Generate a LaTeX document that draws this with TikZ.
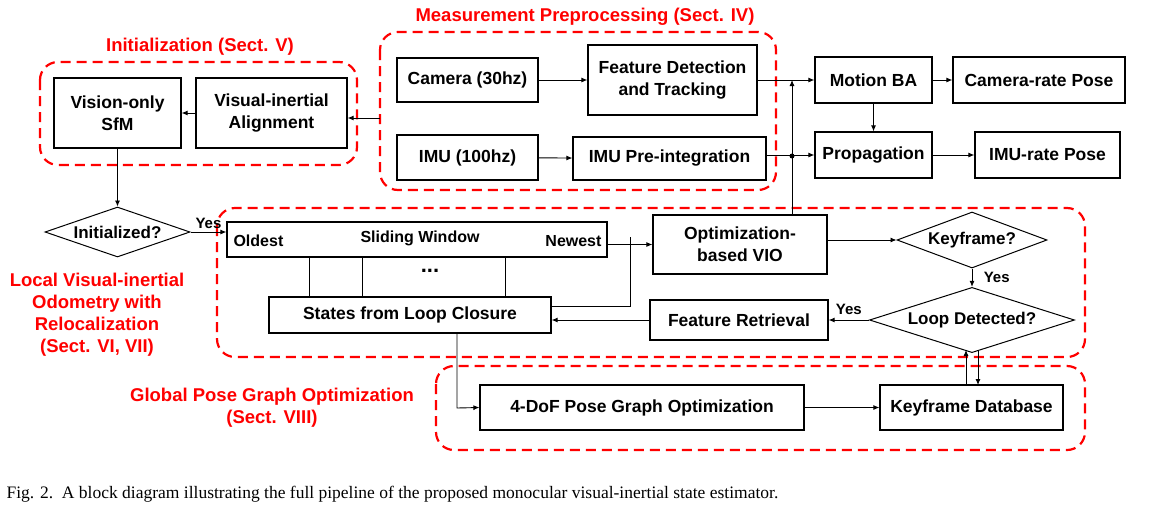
\documentclass[tikz,border=0pt]{standalone}
\usepackage{fontspec}
\setmainfont{Liberation Sans}
\newfontfamily\capfont{Liberation Serif}
\usetikzlibrary{shapes.geometric,arrows.meta}
\begin{document}
\begin{tikzpicture}[x=1pt,y=-1pt,
  box/.style={draw,line width=1.2pt,font=\bfseries\fontsize{17.5}{22}\selectfont,align=center,inner sep=0pt},
  dia/.style={draw,diamond,aspect=2.6,line width=1pt,font=\bfseries\fontsize{17}{18}\selectfont,inner sep=0pt},
  grp/.style={draw=red,line width=2.2pt,dash pattern=on 10pt off 6pt,rounded corners=18pt},
  glab/.style={text=red,font=\bfseries\fontsize{18.5}{22}\selectfont,align=center},
  arr/.style={-{Latex[length=6pt,width=5pt]},line width=0.9pt},
  ln/.style={line width=0.9pt},
  yes/.style={font=\bfseries\fontsize{15}{16}\selectfont},
  swl/.style={font=\bfseries\fontsize{16}{16}\selectfont}]
\useasboundingbox (0,0) rectangle (1155,509);
% groups
\draw[grp] (40,62) rectangle (357,165);
\node[glab] (gi) at (200,47) {Initialization (Sect. V)};
\draw[grp] (380,32) rectangle (776,190);
\node[glab] (gm) at (585,17) {Measurement Preprocessing (Sect. IV)};
\draw[grp] (217,208) rectangle (1085,357);
\node[glab] (gl) at (97,315) {Local Visual-inertial\\Odometry with\\Relocalization\\(Sect. VI, VII)};
\draw[grp] (436,366) rectangle (1085,450);
\node[glab] (gg) at (272,408) {Global Pose Graph Optimization\\(Sect. VIII)};
% boxes
\node[box,minimum width=127pt,minimum height=70pt] (sfm) at (117.5,113) {Vision-only\\SfM};
\node[box,minimum width=151pt,minimum height=70pt] (ali) at (271.5,113) {Visual-inertial\\Alignment};
\node[box,minimum width=141pt,minimum height=44pt] (cam) at (467.5,80) {Camera (30hz)};
\node[box,minimum width=169pt,minimum height=70pt] (fdt) at (672.5,80) {Feature Detection\\and Tracking};
\node[box,minimum width=141pt,minimum height=45pt] (imu) at (467.5,157.5) {IMU (100hz)};
\node[box,minimum width=193pt,minimum height=43pt] (pre) at (669.5,158.5) {IMU Pre-integration};
\node[box,minimum width=117pt,minimum height=46pt] (mba) at (873.5,80) {Motion BA};
\node[box,minimum width=172pt,minimum height=46pt] (crp) at (1039,80) {Camera-rate Pose};
\node[box,minimum width=117pt,minimum height=46pt] (pro) at (873.5,155) {Propagation};
\node[box,minimum width=145pt,minimum height=46pt] (irp) at (1047.5,155) {IMU-rate Pose};
\node[box,minimum width=380pt,minimum height=35pt] (sw) at (417,239.5) {};
\node[swl,anchor=west] (old) at (230,241) {Oldest};
\node[swl] (swt) at (420,238) {Sliding Window};
\node[swl,anchor=east] (new) at (605,241) {Newest};
\node[box,minimum width=282pt,minimum height=36pt] (slc) at (410,315) {States from Loop Closure};
\node[font=\bfseries\fontsize{22}{22}\selectfont] (dots) at (430,271) {...};
\node[box,minimum width=174pt,minimum height=59pt] (vio) at (740,244.5) {Optimization-\\based VIO};
\node[box,minimum width=178pt,minimum height=40pt] (fr) at (739,320) {Feature Retrieval};
\node[box,minimum width=324pt,minimum height=45pt] (pg) at (642,407.5) {4-DoF Pose Graph Optimization};
\node[box,minimum width=183pt,minimum height=45pt] (kd) at (971.5,407.5) {Keyframe Database};
\node[dia,minimum width=145pt,minimum height=50pt] (ini) at (117.5,232) {Initialized?};
\node[dia,minimum width=150pt,minimum height=56pt] (kf) at (972,240) {Keyframe?};
\node[dia,minimum width=205pt,minimum height=60pt] (ld) at (972,320) {Loop Detected?};
% connectors
\draw[arr] (ali) -- (sfm);
\draw[arr] (cam) -- (fdt);
\draw[arr] (imu) -- (pre);
\draw[arr] (380,118) -- (ali.east |- 0,118);
\draw[arr] (fdt.east |- mba) -- (mba);
\draw[arr] (pre.east |- pro) -- (pro);
\draw[arr] (mba) -- (crp);
\draw[arr] (mba) -- (pro);
\draw[arr] (pro) -- (irp);
\draw[arr] (vio.north -| 792,0) -- (792,80);
\fill (792,156) circle (2.5pt);
\draw[arr] (sfm) -- (ini);
\draw[arr] (ini.east) -- node[yes,above]{Yes} (sw.west |- ini.east);
\draw[arr] (sw.east |- vio.west) -- (vio.west);
\draw[ln] (630,237) -- (630,306) -- (slc.east |- 0,306);
\foreach \x in {309,362,505} \draw[ln] (\x,257) -- (\x,297);
\draw[arr] (vio.east |- kf) -- (kf.west);
\draw[arr] (kf.south) -- node[yes,right,xshift=8pt]{Yes} (ld.north);
\draw[arr] (ld.west) -- node[yes,above,yshift=2pt]{Yes} (fr.east);
\draw[arr] (fr.west) -- (slc.east |- fr.west);
\draw[arr] (457,333) -- (457,408) -- (pg.west);
\draw[arr] (pg) -- (kd);
\draw[arr] (966,385) -- (966,350);
\draw[arr] (978,350) -- (978,385);
\node[anchor=west,font=\capfont\fontsize{17.5}{19}\selectfont] (cap) at (3,494) {Fig. 2.\ \ A block diagram illustrating the full pipeline of the proposed monocular visual-inertial state estimator.};
\end{tikzpicture}
\end{document}
